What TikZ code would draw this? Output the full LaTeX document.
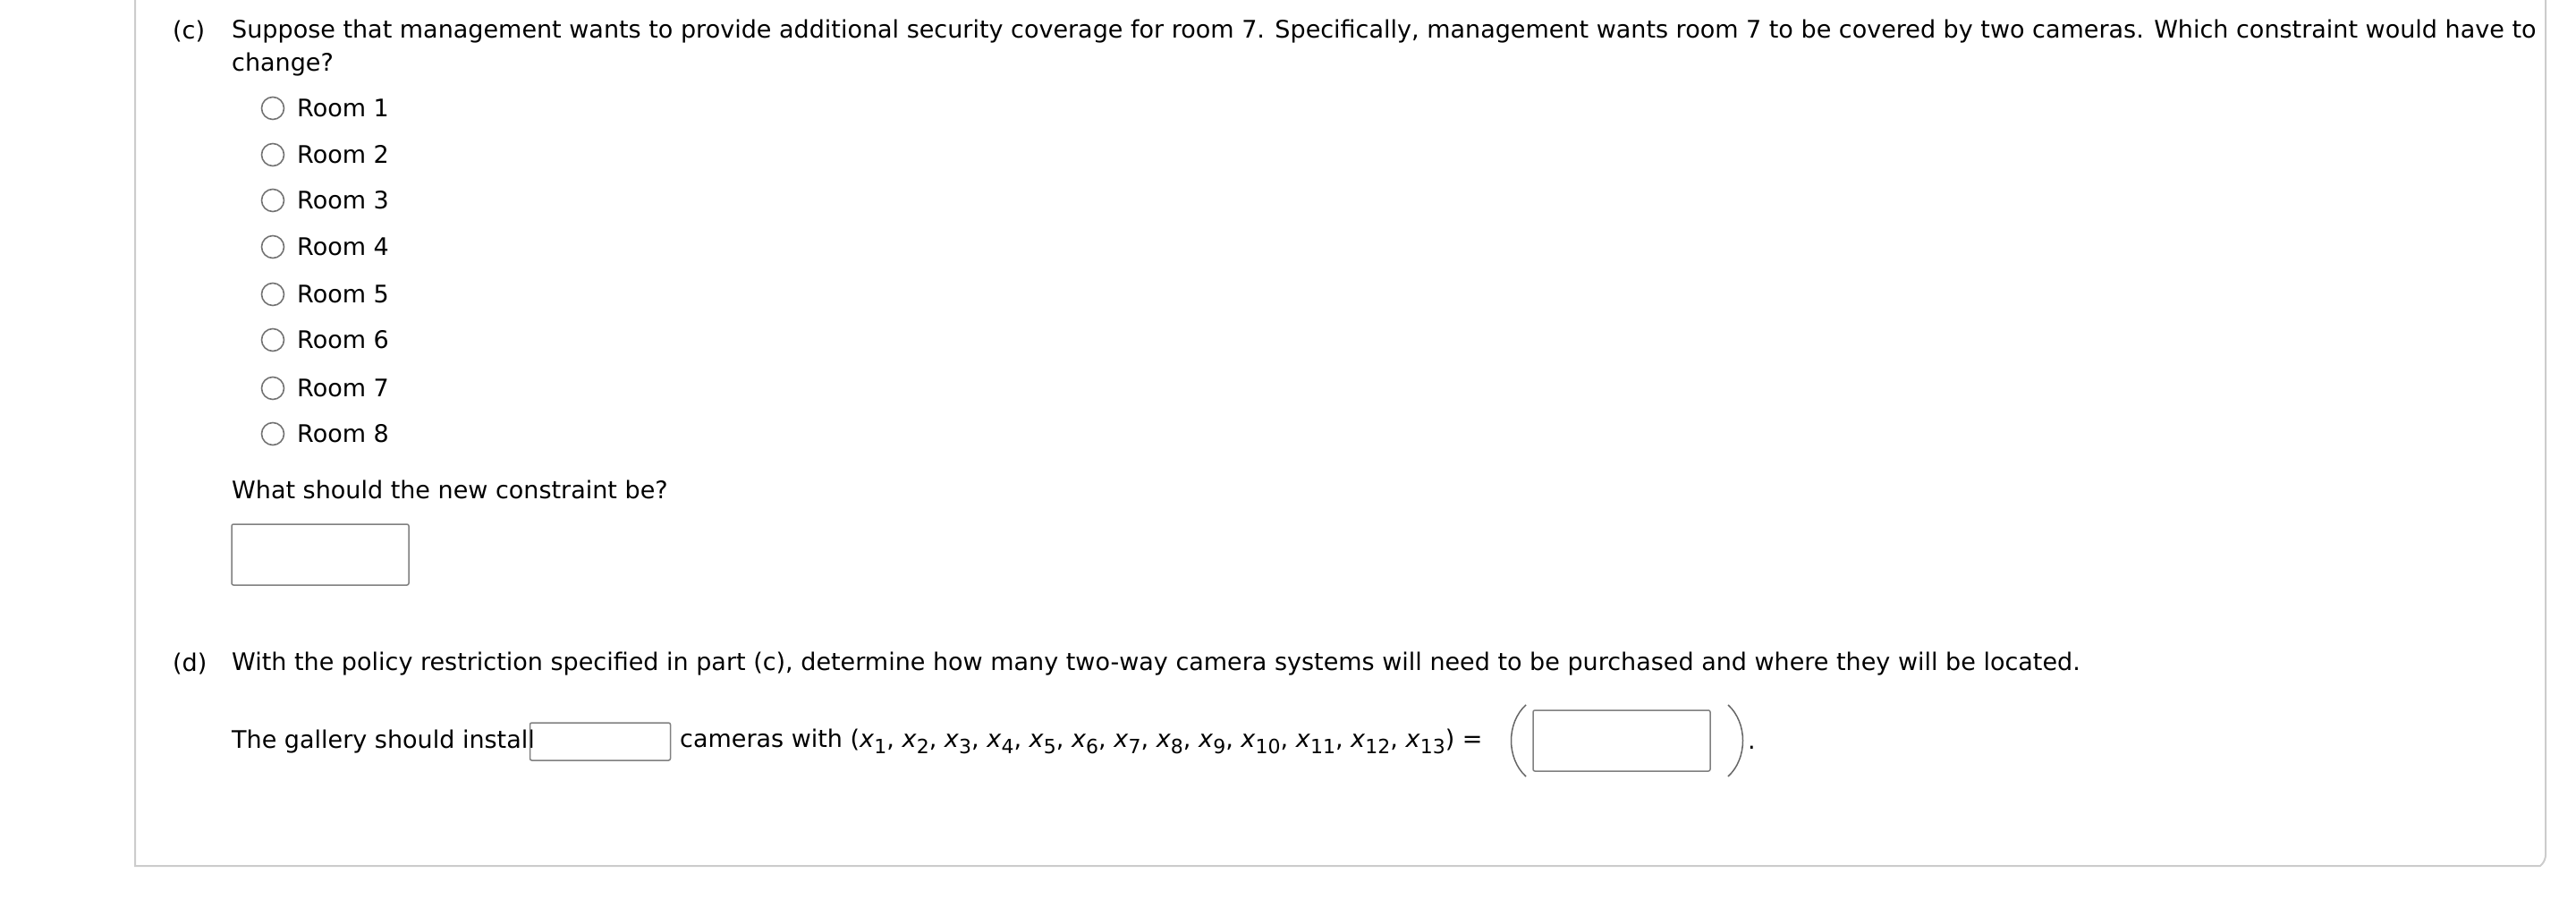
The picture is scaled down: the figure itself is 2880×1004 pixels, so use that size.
\documentclass[tikz,border=0pt]{standalone}
\usepackage{fontspec}
\setmainfont{DejaVu Sans}
\newcommand{\xv}[1]{\textit{x}\raisebox{-7pt}{\fontsize{22}{24}\selectfont #1}}
\begin{document}
\begin{tikzpicture}[x=1pt,y=-1pt,
  txt/.style={anchor=west,inner sep=0pt,font=\fontsize{27}{32}\selectfont},
  radio/.style={circle,draw=black!55,line width=1.6pt,minimum size=25pt,inner sep=0pt},
  ansbox/.style={draw=black!50,line width=1.5pt,inner sep=0pt,rounded corners=2pt}]
\useasboundingbox (0,0) rectangle (2880,1004);
\draw[black!20,line width=2pt] (151,0) -- (151,968) -- (2840,968) [rounded corners=6pt]-- (2846,962) -- (2846,0);
\node[txt] (c) at (193,35) {(c)};
\node[txt] (q1) at (259,35) {Suppose that management wants to provide additional security coverage for room 7. Specifically, management wants room 7 to be covered by two cameras. Which constraint would have to};
\node[txt] (q2) at (259,72) {change?};
\foreach \i/\y in {1/121,2/173,3/224,4/276,5/329,6/380,7/434,8/485}{
  \node[radio] (r\i) at (305,\y) {};
  \node[txt] (t\i) at (332,\y) {Room \i};
}
\node[txt] (w) at (259,547) {What should the new constraint be?};
\node[ansbox,minimum width=198pt,minimum height=68pt] (b1) at (358,620) {};
\node[txt] (d) at (193,742) {(d)};
\node[txt] (dq) at (259,742) {With the policy restriction specified in part (c), determine how many two-way camera systems will need to be purchased and where they will be located.};
\node[txt] (g) at (259,829) {The gallery should install};
\node[ansbox,minimum width=157pt,minimum height=42pt] (b2) at (671,829) {};
\node[txt] (cw) at (760,829) {cameras with (\xv{1}, \xv{2}, \xv{3}, \xv{4}, \xv{5}, \xv{6}, \xv{7}, \xv{8}, \xv{9}, \xv{10}, \xv{11}, \xv{12}, \xv{13}) =};
\node[ansbox,minimum width=198pt,minimum height=68pt] (b3) at (1813,828) {};
\draw[black!60,line width=1.5pt] (1706,788) .. controls (1684,808) and (1684,848) .. (1706,868);
\draw[black!60,line width=1.5pt] (1932,788) .. controls (1954,808) and (1954,848) .. (1932,868);
\node[txt] (dot) at (1954,836) {.};
\end{tikzpicture}
\end{document}
